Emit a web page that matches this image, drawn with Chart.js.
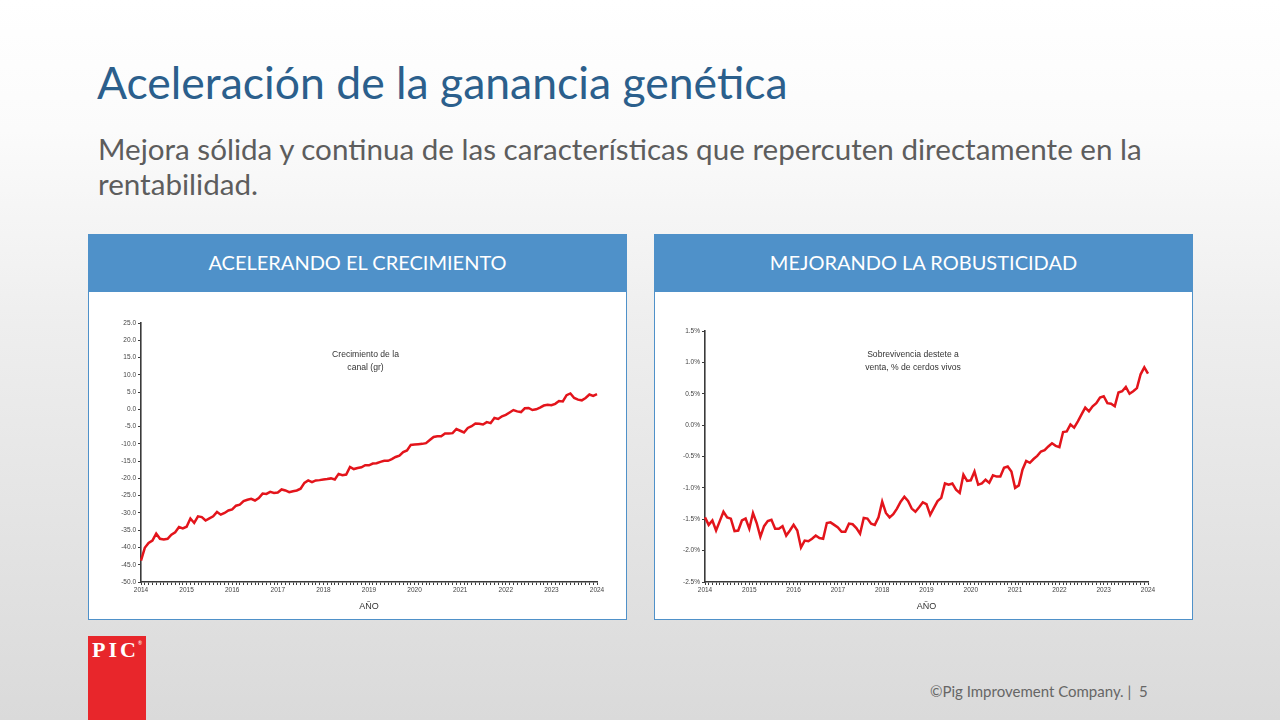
<!DOCTYPE html>
<html lang="es">
<head>
<meta charset="utf-8">
<title>Aceleración de la ganancia genética</title>
<script src="https://cdn.jsdelivr.net/npm/chart.js@4/dist/chart.umd.min.js"></script>
<style>
  html, body { margin: 0; padding: 0; }
  body {
    width: 1280px; height: 720px; overflow: hidden; position: relative;
    font-family: Lato, "Open Sans", sans-serif;
    background: linear-gradient(180deg, #ffffff 0%, #fbfbfb 18%, #eeeeee 45%, #e3e3e3 75%, #dadada 100%);
  }
  .title { position: absolute; left: 97px; top: 55px; font-size: 44.5px; color: #2b5f8c; white-space: nowrap; }
  .subtitle { position: absolute; left: 98px; top: 131px; width: 1120px; font-size: 29.6px; line-height: 35px; color: #5d5d5d; }
  .panel { position: absolute; top: 234px; width: 539px; height: 386px; background: #fff; border: 1px solid #4f91c9; box-sizing: border-box; }
  .panel .head { height: 57px; background: #4f91c9; color: #fff; font-size: 20px; text-align: center; line-height: 54px; }
  .panel .body { position: absolute; left: 0; top: 57px; width: 537px; height: 328px; }
  .note { position: absolute; font-family: "Liberation Sans", Arial, sans-serif; font-size: 8.6px; line-height: 13px; color: #333; text-align: center; }
  .logo { position: absolute; left: 88px; top: 636px; width: 58px; height: 84px; background: #e8262b; }
  .logo span { position: absolute; left: 4px; top: 1px; font-family: "Liberation Serif", serif; font-weight: bold; font-size: 22px; letter-spacing: 3px; color: #fff; }
  .logo sup { position: absolute; left: 50px; top: 4px; font-size: 5px; color: #fff; }
  .footer { position: absolute; left: 930px; top: 682px; font-size: 15px; color: #666; white-space: nowrap; }
</style>
</head>
<body>
<div class="title">Aceleración de la ganancia genética</div>
<div class="subtitle">Mejora sólida y continua de las características que repercuten directamente en la rentabilidad.</div>

<div class="panel" style="left:88px;">
  <div class="head">ACELERANDO EL CRECIMIENTO</div>
  <div class="body"><canvas id="chartGrowth"></canvas></div>
  <div class="note" style="left:214px; top:113px; width:125px;">Crecimiento de la<br>canal (gr)</div>
</div>

<div class="panel" style="left:654px;">
  <div class="head">MEJORANDO LA ROBUSTICIDAD</div>
  <div class="body"><canvas id="chartSurvival"></canvas></div>
  <div class="note" style="left:188px; top:113px; width:140px;">Sobrevivencia destete a<br>venta, % de cerdos vivos</div>
</div>

<div class="logo"><span>PIC</span><sup>®</sup></div>
<div class="footer">©Pig Improvement Company. |&nbsp; 5</div>

<script>
  // meses ene-2014 .. ene-2024 (121 puntos)
  const years = [2014, 2015, 2016, 2017, 2018, 2019, 2020, 2021, 2022, 2023, 2024];
  const months = [];
  years.forEach(y => { for (let m = 1; m <= 12; m++) if (y < 2024 || m === 1) months.push(y + "-" + String(m).padStart(2, "0")); });

  // Crecimiento de la canal (gr)
  const growth = [
    -43.8, -40.1, -38.7, -38.0, -36.0, -37.5, -37.7, -37.5, -36.3, -35.6,
    -34.1, -34.5, -34.0, -31.6, -32.9, -31.0, -31.2, -32.2, -31.6, -31.0,
    -29.7, -30.5, -30.0, -29.3, -29.0, -27.9, -27.6, -26.6, -26.2, -25.9,
    -26.4, -25.7, -24.4, -24.5, -23.9, -24.2, -24.1, -23.2, -23.5, -24.0,
    -23.7, -23.5, -23.0, -21.3, -20.6, -21.1, -20.6, -20.5, -20.3, -20.2,
    -20.0, -20.3, -18.7, -19.1, -18.9, -16.7, -17.3, -17.0,
    -16.8, -16.2, -16.2, -15.7, -15.6, -15.2, -14.9, -14.9, -14.4, -13.8,
    -13.4, -12.4, -11.9, -10.3, -10.2, -10.1, -10.0, -9.8, -8.9, -8.0,
    -7.8, -7.8, -7.0, -7.0, -6.9, -5.7, -6.2, -6.7, -5.4, -4.9,
    -4.1, -4.2, -4.4, -3.7, -4.0, -2.5, -2.8, -2.0, -1.6, -0.9,
    -0.2, -0.6, -0.8, 0.3, 0.4, -0.2, 0.0, 0.5, 1.1, 1.3,
    1.2, 1.6, 2.4, 2.3, 4.1, 4.6, 3.3, 2.8, 2.6, 3.3,
    4.3, 3.9, 4.4
  ];

  // Sobrevivencia destete a venta (%)
  const survival = [
    -1.47, -1.59, -1.52, -1.68, -1.53, -1.38, -1.47, -1.49, -1.69, -1.68,
    -1.52, -1.49, -1.65, -1.40, -1.56, -1.78, -1.61, -1.53, -1.51, -1.65,
    -1.65, -1.61, -1.76, -1.68, -1.59, -1.68, -1.95, -1.84, -1.85, -1.81,
    -1.76, -1.80, -1.81, -1.56, -1.55, -1.59, -1.63, -1.70, -1.70, -1.57,
    -1.58, -1.64, -1.73, -1.48, -1.49, -1.57, -1.59, -1.47, -1.22, -1.40,
    -1.47, -1.42, -1.33, -1.22, -1.14, -1.21, -1.33, -1.38, -1.31, -1.23,
    -1.26, -1.43, -1.32, -1.21, -1.16, -0.93, -0.95, -0.93, -1.03, -1.08,
    -0.79, -0.89, -0.88, -0.74, -0.95, -0.93, -0.87, -0.92, -0.80, -0.82,
    -0.82, -0.68, -0.66, -0.74, -1.00, -0.96, -0.71, -0.57, -0.60, -0.54,
    -0.49, -0.42, -0.40, -0.34, -0.29, -0.33, -0.35, -0.11, -0.10, 0.01,
    -0.04, 0.06, 0.17, 0.28, 0.22, 0.30, 0.35, 0.44, 0.46, 0.35,
    0.34, 0.30, 0.52, 0.54, 0.61, 0.50, 0.54, 0.59, 0.81, 0.92,
    0.82
  ];

  const RED = "#e3141b";
  const AXIS = "#3a3a3a";
  const TICK = { family: "'Liberation Sans', Arial, sans-serif", size: 6.5 };

  function makeChart(id, data, yMin, yMax, yStep, yFmt, box) {
    return new Chart(document.getElementById(id), {
      type: "line",
      data: {
        labels: months,
        datasets: [{ data, borderColor: RED, borderWidth: 2.5, pointRadius: 0, tension: 0, fill: false }],
      },
      options: {
        responsive: true, maintainAspectRatio: false, animation: false,
        layout: { padding: { top: box.top, right: box.right, left: 0, bottom: 0 } },
        plugins: { legend: { display: false }, tooltip: { enabled: false } },
        scales: {
          x: {
            type: "category",
            afterFit: (s) => { s.height = box.bottom; },
            grid: { display: true, drawOnChartArea: false, color: AXIS, tickLength: 3, lineWidth: 1 },
            border: { color: AXIS, width: 1.6 },
            ticks: {
              autoSkip: false, maxRotation: 0, padding: 1, color: "#444", font: TICK,
              callback: (v, i) => months[i].endsWith("-01") ? months[i].slice(0, 4) : "",
            },
            title: { display: true, text: "AÑO", color: "#333", font: { family: "'Liberation Sans', Arial, sans-serif", size: 9 }, padding: { top: 0, bottom: 8 } },
          },
          y: {
            min: yMin, max: yMax,
            afterFit: (s) => { s.width = box.left; },
            grid: { display: true, drawOnChartArea: false, color: AXIS, tickLength: 3 },
            border: { color: AXIS, width: 1.6 },
            ticks: { stepSize: yStep, padding: 2, color: "#444", font: TICK, callback: yFmt },
          },
        },
      },
    });
  }

  makeChart("chartGrowth", growth, -50, 25, 5, (v) => v.toFixed(1),
    { left: 52, right: 29, top: 31, bottom: 38 });
  makeChart("chartSurvival", survival, -2.5, 1.5, 0.5, (v) => v.toFixed(1) + "%",
    { left: 50, right: 44, top: 39, bottom: 38 });
</script>
</body>
</html>
